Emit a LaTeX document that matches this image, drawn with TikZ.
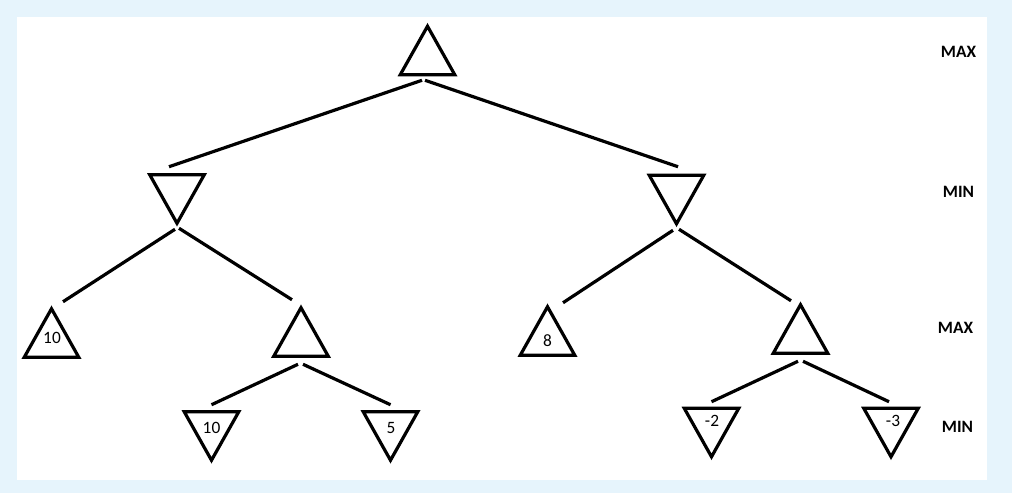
\documentclass[tikz,border=0pt]{standalone}
\usepackage{fontspec}
\setmainfont{Carlito}
\definecolor{framebg}{HTML}{E6F4FC}
\tikzset{
	tribox/.style={inner sep=0pt,minimum width=40.5pt,minimum height=36pt},
	triline/.style={line width=2.4pt,line join=miter},
	edge/.style={line width=2.4pt,line cap=butt},
	val/.style={inner sep=0pt,font=\fontsize{13}{15}\selectfont},
	lvl/.style={inner sep=0pt,font=\bfseries\fontsize{13}{15}\selectfont}
}
\begin{document}
\begin{tikzpicture}[x=0.75pt,y=-0.75pt]
			\fill[framebg] (0,0) rectangle (1012,493);
			\fill[white] (17,17) rectangle (987,480);
			% triangles
			\node[tribox] (root) at (427.5,50.5) {};
			\node[tribox] (lmin) at (177,199) {};
			\node[tribox] (rmin) at (676.5,199.5) {};
			\node[tribox] (leafa) at (51.5,333) {};
			\node[tribox] (lmax) at (301,332) {};
			\node[tribox] (leafc) at (547.5,331) {};
			\node[tribox] (rmax) at (800.5,329) {};
			\node[tribox] (leafb) at (211.5,436) {};
			\node[tribox] (leafd) at (390.5,436) {};
			\node[tribox] (leafe) at (711.5,432.5) {};
			\node[tribox] (leaff) at (891,432.5) {};
			\foreach \n in {root,leafa,lmax,leafc,rmax}
				\draw[triline] (\n.north)--(\n.south west)--(\n.south east)--cycle;
			\foreach \n in {lmin,rmin,leafb,leafd,leafe,leaff}
				\draw[triline] (\n.north west)--(\n.north east)--(\n.south)--cycle;
			% values
			\node[val] (va) at ([shift={(0.5,5)}]leafa.center) {10};
			\node[val] (vc) at ([shift={(0,10)}]leafc.center) {8};
			\node[val] (vb) at ([shift={(0,-8.5)}]leafb.center) {10};
			\node[val] (vd) at ([shift={(0.5,-8.5)}]leafd.center) {5};
			\node[val] (ve) at ([shift={(0.5,-11.5)}]leafe.center) {-2};
			\node[val] (vf) at ([shift={(2,-11.5)}]leaff.center) {-3};
			% edges
			\draw[edge] ([shift={(-5.5,5.5)}]root.south)--([shift={(-8,-8)}]lmin.north);
			\draw[edge] ([shift={(-2.5,5.5)}]root.south)--([shift={(1.5,-8.5)}]rmin.north);
			\draw[edge] ([shift={(-2,6)}]lmin.south)--([shift={(11.5,-7)}]leafa.north);
			\draw[edge] ([shift={(2,5)}]lmin.south)--([shift={(-9,-8)}]lmax.north);
			\draw[edge] ([shift={(-3,8)}]lmax.south)--([shift={(0,-7)}]leafb.north);
			\draw[edge] ([shift={(2,8)}]lmax.south)--([shift={(0,-7)}]leafd.north);
			\draw[edge] ([shift={(-3.5,6.5)}]rmin.south)--([shift={(15.5,-4)}]leafc.north);
			\draw[edge] ([shift={(2.5,5.5)}]rmin.south)--([shift={(-9.5,-4)}]rmax.north);
			\draw[edge] ([shift={(-2.5,8)}]rmax.south)--([shift={(0,-6.5)}]leafe.north);
			\draw[edge] ([shift={(2.5,8)}]rmax.south)--([shift={(-2,-6.5)}]leaff.north);
			% levels
			\node[lvl] (lvla) at (958.5,52) {MAX};
			\node[lvl] (lvlb) at (958.5,192) {MIN};
			\node[lvl] (lvlc) at (955.5,328) {MAX};
			\node[lvl] (lvld) at (957.5,427) {MIN};
\end{tikzpicture}
\end{document}
